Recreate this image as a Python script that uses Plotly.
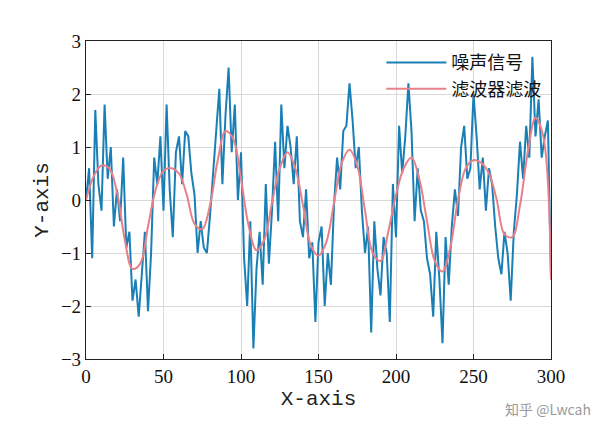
import plotly.graph_objects as go

# noisy signal, sampled every 2 units
x_noise = list(range(0, 301, 2))
noise = [0.0, 0.6, -1.1, 1.7, 0.3, -0.2, 1.8, 0.4, 1.0, -0.5,
         0.2, -0.4, 0.8, -0.9, -0.6, -1.9, -1.5, -2.2, -1.4, -0.6,
         -2.1, -1.0, 0.8, 0.3, 1.2, -0.2, 1.8, 0.2, -0.7, 0.9,
         1.2, 0.3, 1.3, 1.2, 0.5, 0.1, -1.0, -0.4, -0.9, -1.0,
         -0.3, 0.5, 1.3, 2.1, 0.3, 1.6, 2.5, 0.9, 1.8, 0.0,
         0.9, -1.1, -2.0, -0.4, -2.8, -1.3, -0.6, -1.6, 0.3, -1.2,
         -0.2, 1.1, -0.4, 1.8, 0.6, 1.4, 1.0, 0.3, 1.2, -0.4,
         -0.7, 0.2, -1.1, -0.8, -2.3, -0.8, -0.5, -2.0, -1.0, -1.6,
         -0.1, 0.8, 0.2, 1.3, 1.4, 2.2, 1.5, 0.6, 1.0, -0.2,
         -1.0, -0.5, -2.5, -0.4, -1.3, -1.8, -0.7, -1.0, -2.3, 0.3,
         -0.7, 1.4, 0.5, 1.2, 2.2, 1.3, -0.4, 0.6, -0.2, -0.4,
         -1.1, -1.4, -2.2, -0.6, -1.5, -2.7, -0.7, -1.6, -0.5, 0.2,
         -0.3, 1.0, 1.4, 0.4, 0.6, 2.0, 1.2, 0.2, 0.8, -0.2,
         0.6, 0.3, -0.5, -1.1, -1.4, -0.6, -1.0, -1.9, -0.6, 0.1,
         1.1, 0.4, 1.4, 0.8, 2.7, 1.2, 1.9, 0.8, 1.2, 1.5,
         -1.5]

# filtered signal, sampled every 5 units
x_filt = list(range(0, 301, 5))
filt = [0.0, 0.45, 0.65, 0.6, 0.15, -0.75, -1.3, -1.2, -0.5, 0.2,
        0.55, 0.6, 0.5, 0.1, -0.45, -0.55, -0.1, 0.75, 1.3, 1.15,
        0.4, -0.5, -0.95, -0.75, -0.05, 0.6, 0.9, 0.6, -0.1, -0.85,
        -1.05, -0.8, -0.05, 0.7, 0.95, 0.65, -0.2, -1.0, -1.15, -0.6,
        0.1, 0.6, 0.8, 0.4, -0.4, -1.15, -1.35, -0.9, 0.0, 0.6,
        0.75, 0.7, 0.5, 0.0, -0.65, -0.7, -0.1, 0.9, 1.55, 1.2,
        -1.5]

serif = "Liberation Serif"
mono = "Liberation Mono"
cjk = "Noto Sans CJK SC"

fig = go.Figure()
fig.add_trace(go.Scatter(x=x_noise, y=noise, mode='lines', name='噪声信号',
                         line=dict(color='#1a7fb5', width=2)))
fig.add_trace(go.Scatter(x=x_filt, y=filt, mode='lines', name='滤波器滤波',
                         line=dict(color='#e8808a', width=2, shape='spline')))

axis = dict(showline=True, linecolor='#222', linewidth=1.2, mirror=True,
            ticks='inside', ticklen=5, tickcolor='#222',
            showgrid=True, gridcolor='#d9d9d9', gridwidth=1, zeroline=False,
            tickfont=dict(family=serif, size=19, color='#111'))

fig.update_layout(
    width=600, height=423,
    margin=dict(l=78, r=57, t=33, b=72),
    plot_bgcolor='white', paper_bgcolor='white',
    xaxis=dict(axis, range=[0, 300], dtick=50,
               title=dict(text='X-axis', font=dict(family=mono, size=21, color='#222'), standoff=4)),
    yaxis=dict(axis, range=[-3, 3], dtick=1,
               title=dict(text='Y-axis', font=dict(family=mono, size=21, color='#222'), standoff=6)),
    legend=dict(x=0.99, y=0.99, xanchor='right', yanchor='top',
                bgcolor='rgba(0,0,0,0)', font=dict(family=cjk, size=18, color='#111'),
                tracegroupgap=0, itemwidth=60),
    showlegend=True,
)
fig.add_annotation(text='知乎 @Lwcah', xref='paper', yref='paper', x=1.09, y=-0.12,
                   showarrow=False, xanchor='right', yanchor='top',
                   font=dict(family=cjk, size=14, color='#999'))

fig.write_html("out.html")
